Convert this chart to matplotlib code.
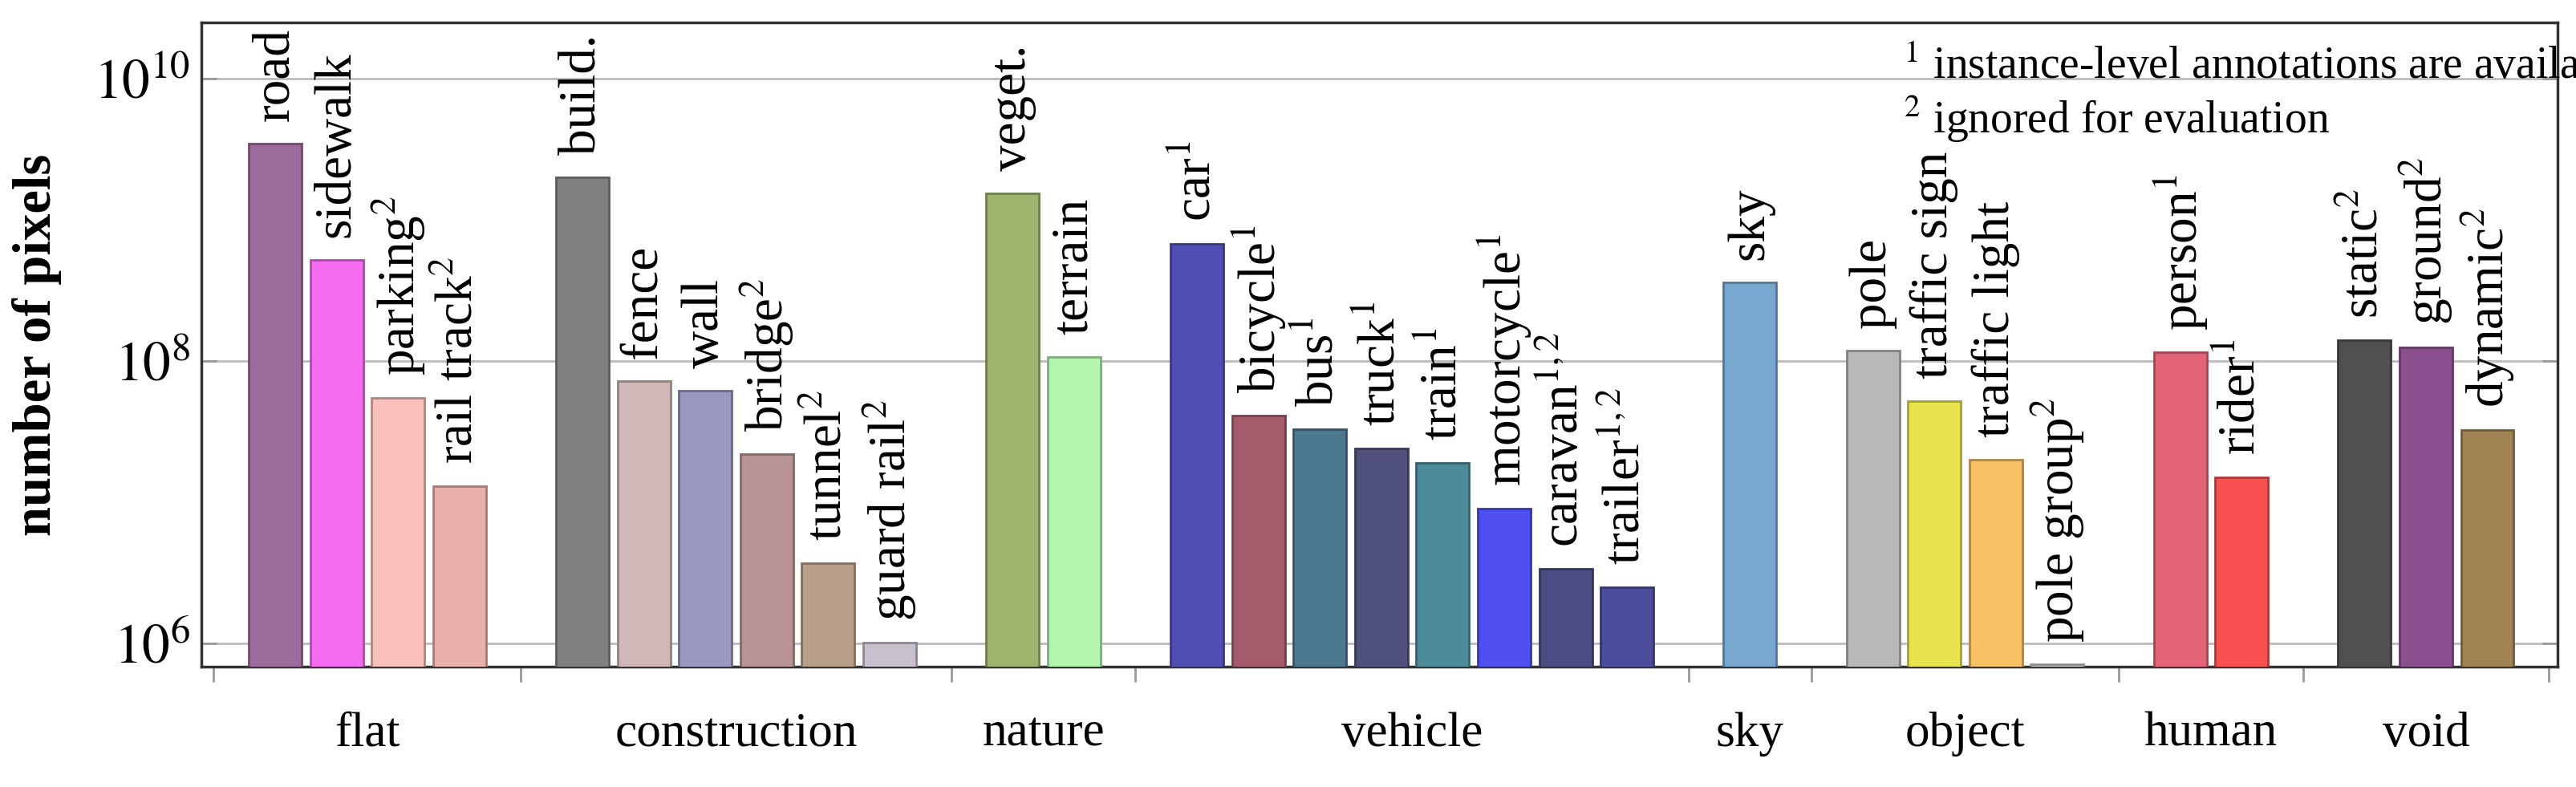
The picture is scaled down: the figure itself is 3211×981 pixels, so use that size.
import matplotlib
matplotlib.use("Agg")
import matplotlib.pyplot as plt
import matplotlib.colors as mcolors
import numpy as np

plt.rcParams['font.family'] = 'serif'
plt.rcParams['font.serif'] = ['Liberation Serif', 'DejaVu Serif']
plt.rcParams['mathtext.fontset'] = 'stix'

labels = ['road', 'sidewalk', r'parking$^2$', r'rail track$^2$',
          'build.', 'fence', 'wall', r'bridge$^2$', r'tunnel$^2$', r'guard rail$^2$',
          'veget.', 'terrain',
          r'car$^1$', r'bicycle$^1$', r'bus$^1$', r'truck$^1$', r'train$^1$', r'motorcycle$^1$',
          r'caravan$^{1,2}$', r'trailer$^{1,2}$',
          'sky',
          'pole', 'traffic sign', 'traffic light', r'pole group$^2$',
          r'person$^1$', r'rider$^1$',
          r'static$^2$', r'ground$^2$', r'dynamic$^2$']
values = [3.5e9, 5.2e8, 5.5e7, 1.3e7,
          2.0e9, 7.2e7, 6.2e7, 2.2e7, 3.7e6, 1.0e6,
          1.55e9, 1.07e8,
          6.8e8, 4.1e7, 3.3e7, 2.4e7, 1.9e7, 9.0e6, 3.35e6, 2.5e6,
          3.6e8,
          1.19e8, 5.2e7, 2.0e7, 7.0e5,
          1.15e8, 1.5e7,
          1.4e8, 1.25e8, 3.25e7]
colors = ['#9C6B9B', '#F46CF0', '#F8C0B8', '#E8B0A8',
          '#808080', '#D0B8B8', '#9898C0', '#B89494', '#B8A088', '#C8C0CC',
          '#9CB46C', '#B4F8B0',
          '#5050B4', '#A45C6C', '#4C7890', '#50507C', '#4C8C98', '#5050F0', '#4C4C84', '#4C4C9C',
          '#78A8D0',
          '#B8B8B8', '#E8E450', '#F8C064', '#C8C8C8',
          '#E46478', '#F85050',
          '#505050', '#8C5090', '#A08454']
groups = ['flat', 'construction', 'nature', 'vehicle', 'sky', 'object', 'human', 'void']
group_sizes = [4, 6, 2, 8, 1, 4, 2, 3]
group_ticks = [-1, 4, 11, 14, 23, 25, 30, 33, 37]

pos = []
grp_pos = []
x = 0
for n in group_sizes:
    p = list(range(x, x + n))
    pos += p
    grp_pos.append(np.mean(p))
    x += n + 1

fig = plt.figure(figsize=(32.11, 9.81), dpi=100)
ax = fig.add_axes([0.0782, 0.153, 0.9146, 0.8185])
ax.set_yscale('log')

edges = [tuple(c * 0.7 for c in mcolors.to_rgb(col)) for col in colors]
ax.bar(pos, values, width=0.86, color=colors, edgecolor=edges, linewidth=2.0,
       bottom=1e4, zorder=3)

for p, v, lab in zip(pos, values, labels):
    ax.annotate(lab, (p, max(v, 10**5.84)), xytext=(0, 20), textcoords='offset points',
                rotation=90, ha='center', va='bottom', fontsize=47, zorder=4)

ax.set_xlim(-1.2, 37.14)
ax.set_ylim(10**5.835, 10**10.40)
ax.set_yticks([1e6, 1e8, 1e10])
ax.set_yticklabels([r'$10^6$', r'$10^8$', r'$10^{10}$'])
ax.yaxis.set_minor_locator(matplotlib.ticker.NullLocator())
ax.tick_params(axis='y', which='major', direction='in', length=14, width=2,
               color='#999999', labelsize=50, right=True, pad=10)
ax.grid(axis='y', color='#BBBBBB', linewidth=2, zorder=0)

ax.set_xticks(group_ticks)
ax.set_xticklabels([])
ax.tick_params(axis='x', direction='out', length=14, width=2, color='#999999')

for gp, g in zip(grp_pos, groups):
    ax.text(gp, -0.105, g, transform=ax.get_xaxis_transform(), ha='center',
            va='center', fontsize=44)

for s in ax.spines.values():
    s.set_color('#333333')
    s.set_linewidth(2.5)

fig.text(0.0143, 0.562, 'number of pixels', rotation=90, ha='center', va='center',
         fontsize=48, fontweight='bold')

ax.text(0.7225, 0.93, r'$^1$ instance-level annotations are available',
        transform=ax.transAxes, ha='left', va='center', fontsize=40)
ax.text(0.7225, 0.85, r'$^2$ ignored for evaluation',
        transform=ax.transAxes, ha='left', va='center', fontsize=40)

fig.savefig('out.png', dpi=100)
